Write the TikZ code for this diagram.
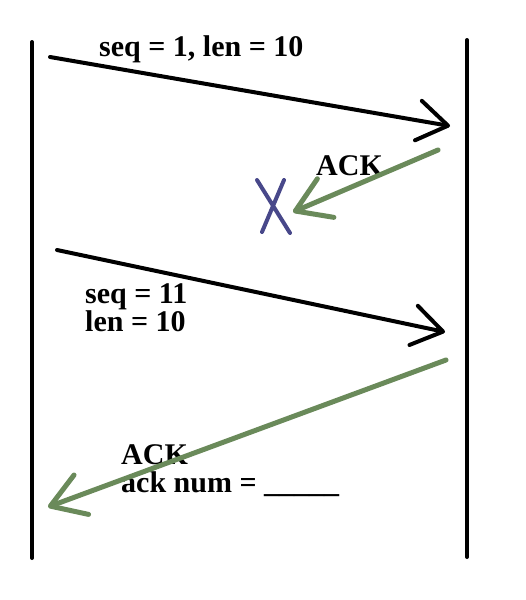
\documentclass[tikz,border=0pt]{standalone}
\usepackage{fontspec}
\setmainfont{Liberation Serif}
\usetikzlibrary{arrows.meta}

\definecolor{ackgreen}{RGB}{106,138,90}
\definecolor{lostblue}{RGB}{72,72,138}

\tikzset{
	timeline/.style={line width=4pt, line cap=round},
	segment/.style={line width=4pt, line cap=round, -{Straight Barb[length=30pt,width=40pt,round]}},
	ackline/.style={line width=5pt, ackgreen, line cap=round, -{Straight Barb[length=33pt,width=42pt,round]}},
	lostmark/.style={line width=4pt, lostblue, line cap=round},
	msg/.style={font=\fontsize{30}{25}\selectfont\bfseries, inner sep=0pt, anchor=north west, align=left}
}

\begin{document}
\begin{tikzpicture}[x=1pt,y=-1pt]
	\useasboundingbox (0,0) rectangle (526,600);
	
	% Draw the two hosts
	\coordinate (Atop) at (32,42);
	\coordinate (Abot) at (32,558);
	\coordinate (Btop) at (467,40);
	\coordinate (Bbot) at (467,557);
	\draw[timeline] (Atop) -- (Abot);
	\draw[timeline] (Btop) -- (Bbot);
	
	% Draw ends of the segments and acks
	\coordinate (seg1s) at (50,57);
	\coordinate (seg1e) at (450,126);
	\coordinate (ack1s) at (438,150);
	\coordinate (ack1e) at (293,212);
	\coordinate (seg2s) at (57,250);
	\coordinate (seg2e) at (445,332);
	\coordinate (ack2s) at (446,360);
	\coordinate (ack2e) at (48,507);
	
	% Draw labels
	\node[msg] (seg1) at (99,35) {seq = 1, len = 10};
	\node[msg] (ack1) at (316,155) {ACK};
	\node[msg] (seg2) at (85,283) {seq = 11\\len = 10};
	\node[msg] (ack2) at (121,444) {ACK\\[3pt]ack num = \_\_\_\_\_};
	
	% Draw arcs, first segment and its lost ack
	\draw[segment] (seg1s) -- (seg1e);
	\draw[ackline] (ack1s) -- (ack1e);
	\draw[lostmark] (257,180) -- (290,233) (284,180) -- (262,232);
	
	% Draw arcs, second segment and its ack
	\draw[segment] (seg2s) -- (seg2e);
	\draw[ackline] (ack2s) -- (ack2e);
	
\end{tikzpicture}
\end{document}
